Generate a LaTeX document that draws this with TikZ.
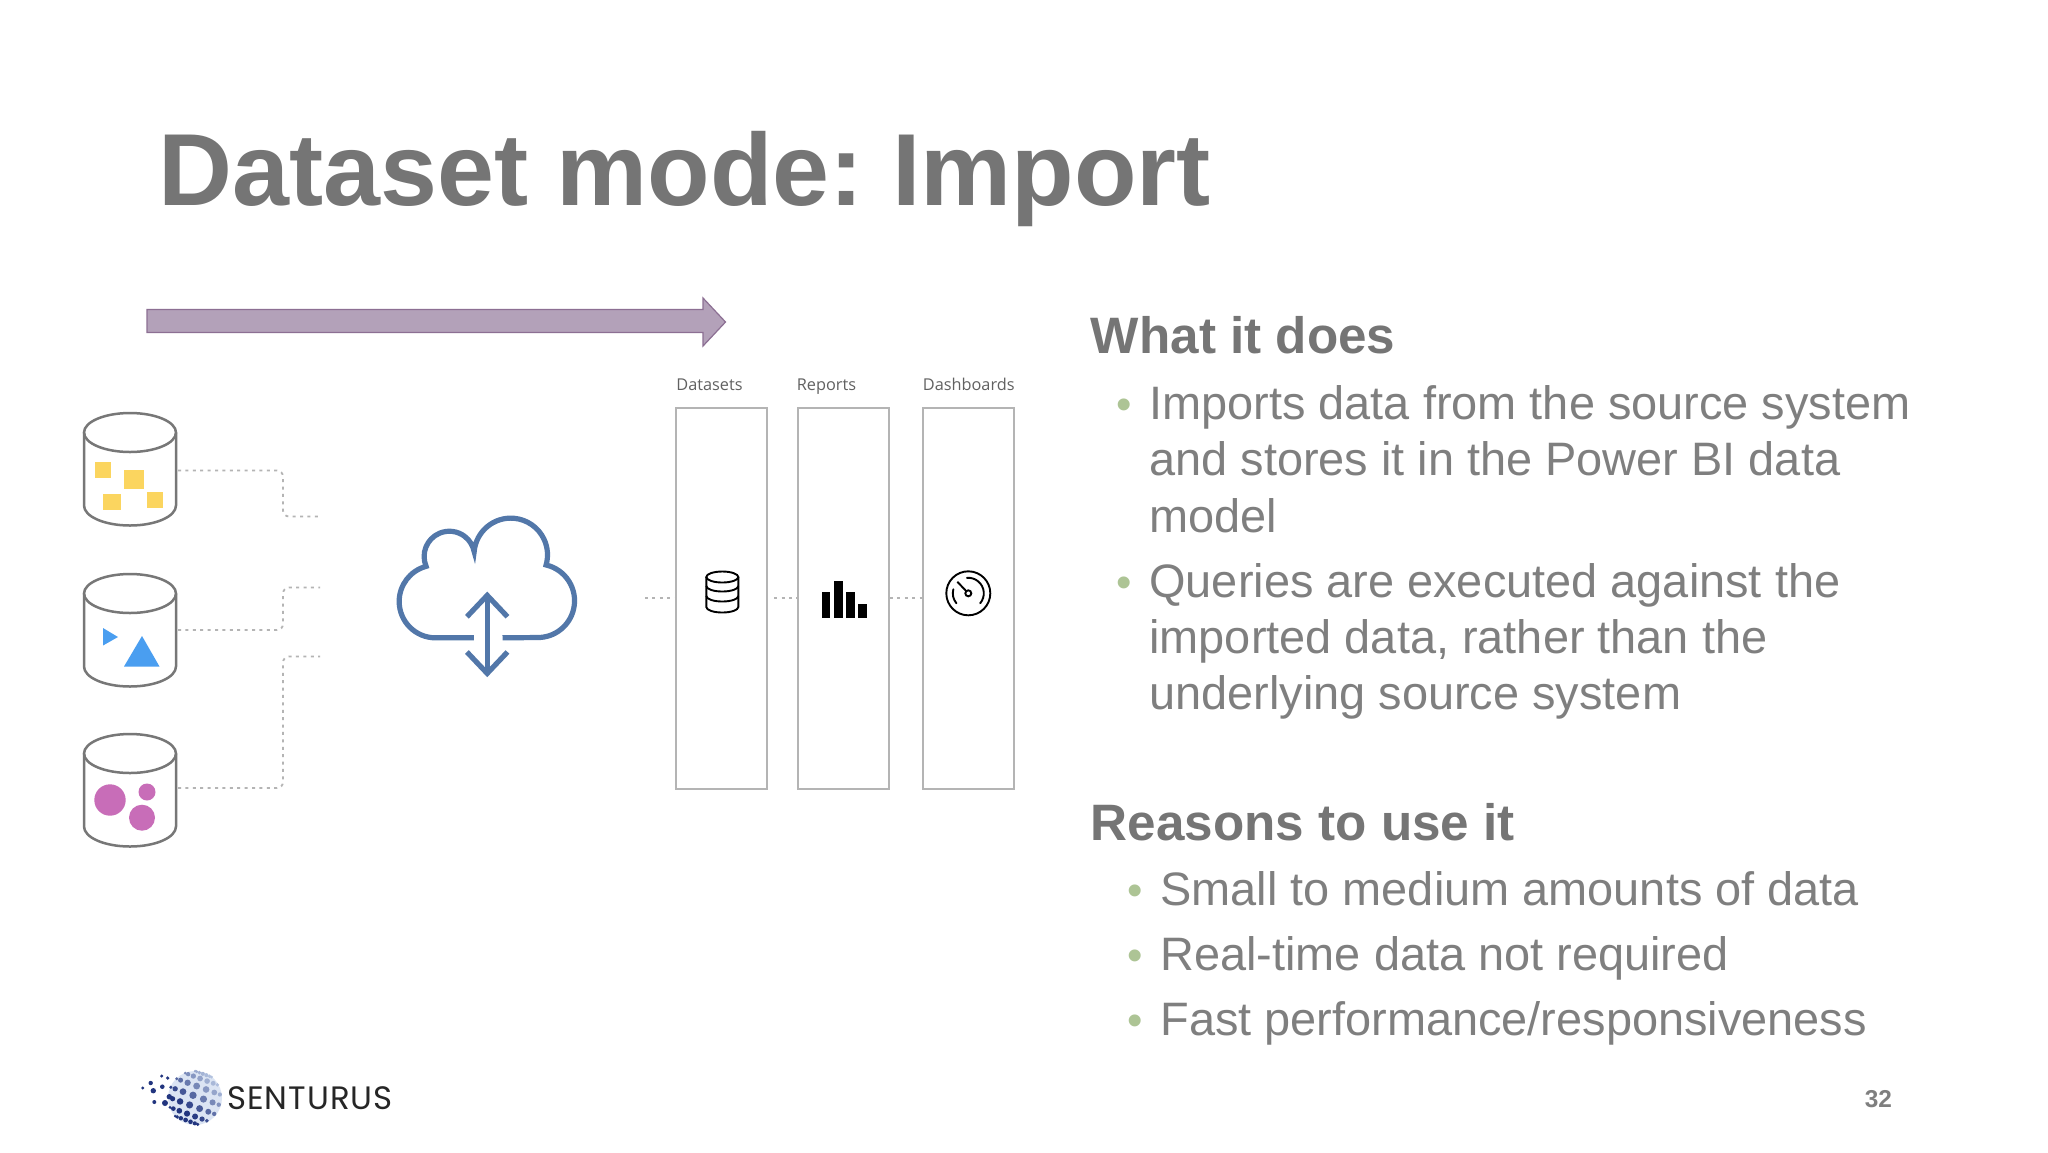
\documentclass[tikz,border=0pt]{standalone}
\usepackage{fontspec}
\setmainfont{Liberation Sans}
\newfontfamily\opensf{Open Sans}
\newfontfamily\popf[LetterSpace=3]{Poppins}
\frenchspacing
\definecolor{txtgray}{HTML}{7F7F7F}
\definecolor{ttlgray}{HTML}{757575}
\definecolor{bulgreen}{HTML}{ADC495}
\definecolor{cylgray}{HTML}{777777}
\definecolor{connlt}{HTML}{B4B4B4}
\definecolor{boxgray}{HTML}{B4B4B4}
\definecolor{cloudblue}{HTML}{5277A9}
\definecolor{barfill}{HTML}{B3A1B9}
\definecolor{barline}{HTML}{8C6F93}
\definecolor{sqyellow}{HTML}{FBD55F}
\definecolor{triblue}{HTML}{4A9EF0}
\definecolor{cirpink}{HTML}{C86DB8}
\definecolor{gdark}{HTML}{22357F}
\definecolor{glight}{HTML}{C3D2EA}
\tikzset{
  ttl/.style={font=\bfseries\fontsize{51.2pt}{60pt}\selectfont,text=ttlgray,anchor=base west,inner sep=0pt},
  hdr/.style={font=\bfseries\fontsize{25.6pt}{30pt}\selectfont,text=ttlgray,anchor=base west,inner sep=0pt},
  bodyl/.style={font=\fontsize{23.45pt}{28pt}\selectfont,text=txtgray,anchor=base west,inner sep=0pt},
  bul/.style={font=\fontsize{22pt}{28pt}\selectfont,text=bulgreen,anchor=base west,inner sep=0pt},
  collabel/.style={font=\opensf\fontsize{8.15pt}{10pt}\selectfont,text=black!62,anchor=base west,inner sep=0pt},
  colbox/.style={draw=boxgray,line width=1pt,fill=white,minimum width=45.5pt,minimum height=190.5pt,inner sep=0pt},
  cylline/.style={draw=cylgray,line width=1.25pt},
  conn/.style={draw=connlt,line width=0.9pt,dash pattern=on 1.5pt off 2.2pt,rounded corners=3pt},
  iconl/.style={draw=black,line width=0.95pt},
  cloudl/.style={draw=cloudblue,line width=2.6pt}
}
\newcommand{\cylat}[1]{%
  \fill[white] (84,#1) -- (84,#1+73) arc[start angle=180,end angle=0,x radius=46,y radius=20] -- (176,#1) -- cycle;
  \draw[cylline,fill=white] (130,#1) ellipse[x radius=46,y radius=19.5];
  \draw[cylline] (84,#1) -- (84,#1+73) arc[start angle=180,end angle=0,x radius=46,y radius=20] -- (176,#1);
}
\begin{document}
\begin{tikzpicture}[x=0.5pt,y=-0.5pt]
\useasboundingbox (0,0) rectangle (2048,1152);
\fill[white] (0,0) rectangle (2048,1152);

\node[ttl] (title) at (158,205) {Dataset mode: Import};

% big arrow
\draw[fill=barfill,draw=barline,line width=0.6pt] (147,309.5) -- (703,309.5) -- (703,298) -- (725.5,322) -- (703,346) -- (703,332.5) -- (147,332.5) -- cycle;

% cylinders
\cylat{432.5}
\cylat{593.5}
\cylat{753.5}
\coordinate (s1) at (178,470.5);
\coordinate (s2) at (178,630);
\coordinate (s3) at (178,788);
\coordinate (t1) at (320,516.5);
\coordinate (t2) at (320,587.5);
\coordinate (t3) at (320,656.5);
\coordinate (t4) at (645,598);

% cylinder content
\fill[sqyellow] (94.5,462) rectangle (111,478);
\fill[sqyellow] (124,470) rectangle (144,488.5);
\fill[sqyellow] (103,494) rectangle (120.5,510);
\fill[sqyellow] (147,491.5) rectangle (163,508);
\fill[triblue] (103,628) -- (118,637) -- (103,645.5) -- cycle;
\fill[triblue] (142,636) -- (124,666.5) -- (159.5,666.5) -- cycle;
\fill[cirpink] (110,800) circle[radius=15.7];
\fill[cirpink] (147,792) circle[radius=8.5];
\fill[cirpink] (142,817.7) circle[radius=13];

% connectors
\draw[conn] (s1) -- (283,470.5) -- (283,516.5) -- (t1);
\draw[conn] (s2) -- (283,630) -- (283,587.5) -- (t2);
\draw[conn] (s3) -- (283,788) -- (283,656.5) -- (t3);

% cloud
\begin{scope}[shift={(60.5,280)},x=0.19135pt,y=-0.19135pt]
\draw[cloudl] (1080,935) -- (980,935) arc[start angle=90,end angle=255,radius=95]
  arc[start angle=157,end angle=349,radius=66]
  arc[start angle=185,end angle=376,radius=96]
  arc[start angle=-77,end angle=90,radius=96] -- (1155,935);
\draw[cloudl] (1115,825) -- (1115,1025);
\draw[cloudl] (1062,880) -- (1115,824) -- (1168,880);
\draw[cloudl] (1062,972) -- (1115,1028) -- (1168,972);
\end{scope}

% columns
\node[colbox] (box1) at (721.7,598) {};
\node[colbox] (box2) at (843.5,598) {};
\node[colbox] (box3) at (968,598) {};
\draw[conn] (t4) -- (box1.west);
\draw[conn] (box1.east) ++(6,0) -- (box2.west);
\draw[conn] (box2.east) -- (box3.west);
\node[collabel] (l1) at (676,390) {Datasets};
\node[collabel] (l2) at (796.5,390) {Reports};
\node[collabel] (l3) at (922.5,390) {Dashboards};

% db icon
\draw[iconl] (722.3,577) ellipse[x radius=16,y radius=5.5];
\draw[iconl] (706.3,577) -- (706.3,607) arc[start angle=180,end angle=0,x radius=16,y radius=5.5] -- (738.3,577);
\draw[iconl] (706.3,586) arc[start angle=180,end angle=0,x radius=16,y radius=5.5];
\draw[iconl] (706.3,596) arc[start angle=180,end angle=0,x radius=16,y radius=5.5];

% bars icon
\fill[black] (821.7,592.3) rectangle (830.3,618.3);
\fill[black] (833.7,580.7) rectangle (842.7,618.3);
\fill[black] (846,592.3) rectangle (855,618.3);
\fill[black] (858.3,604) rectangle (867.3,618.3);

% gauge icon
\draw[iconl] (968.3,593.3) circle[radius=22];
\draw[iconl] (968.3,593.3) circle[radius=3];
\draw[iconl] (966.2,591.1) -- (957.3,581.7);
\draw[iconl,line cap=round] (968.3,593.3) ++(140:15.5) arc[start angle=140,end angle=195,radius=15.5];
\draw[iconl,line cap=round] (968.3,593.3) ++(265:15.5) arc[start angle=265,end angle=400,radius=15.5];

% right text
\node[hdr] (h1) at (1090.5,353.5) {What it does};
\node[bul] (b1) at (1116,419.5) {•};
\node[bodyl] (a1) at (1149,419.5) {Imports data from the source system};
\node[bodyl] (a2) at (1149,475.5) {and stores it in the Power BI data};
\node[bodyl] (a3) at (1149,532.5) {model};
\node[bul] (b2) at (1116,597.5) {•};
\node[bodyl] (a4) at (1149,597.5) {Queries are executed against the};
\node[bodyl] (a5) at (1149,653.5) {imported data, rather than the};
\node[bodyl] (a6) at (1149,709.5) {underlying source system};
\node[hdr] (h2) at (1090.5,840.5) {Reasons to use it};
\node[bul] (b3) at (1127,905.5) {•};
\node[bodyl] (c1) at (1160,905.5) {Small to medium amounts of data};
\node[bul] (b4) at (1127,970.5) {•};
\node[bodyl] (c2) at (1160,970.5) {Real-time data not required};
\node[bul] (b5) at (1127,1035) {•};
\node[bodyl] (c3) at (1160,1035) {Fast performance/responsiveness};

% page number
\node[font=\bfseries\fontsize{12.2pt}{14pt}\selectfont,text=txtgray,anchor=base west,inner sep=0pt] (pg) at (1864.5,1107.5) {32};

% logo
\fill[glight!60!white] (195,1098) circle[radius=27];
\foreach \la in {-70,-48,...,70}{
  \foreach \lo in {-78,-54,...,78}{
    \pgfmathsetmacro\pa{27*cos(\la)*sin(\lo)}
    \pgfmathsetmacro\pb{27*sin(\la)}
    \pgfmathsetmacro\qa{\pa*cos(20)-\pb*sin(20)}
    \pgfmathsetmacro\qb{\pa*sin(20)+\pb*cos(20)}
    \pgfmathsetmacro\mixv{max(0,min(100,68-1.6*\qa+1.5*\qb))}
    \pgfmathsetmacro\rad{1.2+2.5*cos(\la)*cos(\lo)}
    \fill[gdark!\mixv!glight] (195+\qa,1098+\qb) circle[radius=\rad];
  }
}
\foreach \xx/\yy/\rr in {142.7/1088/1.6,150.7/1083/2.2,153.3/1090.7/2.7,154.3/1102/2,161.7/1076/1.7,167.7/1078/1.8,162.3/1086.7/2.3,165/1103/3,169.3/1096.7/2.7}{
  \fill[gdark] (\xx,\yy) circle[radius=\rr];
}
\node[font=\popf\fontsize{16.2pt}{18pt}\selectfont,text=black!85,anchor=base west,inner sep=0pt] (logo) at (227,1109) {SENTURUS};
\end{tikzpicture}
\end{document}
